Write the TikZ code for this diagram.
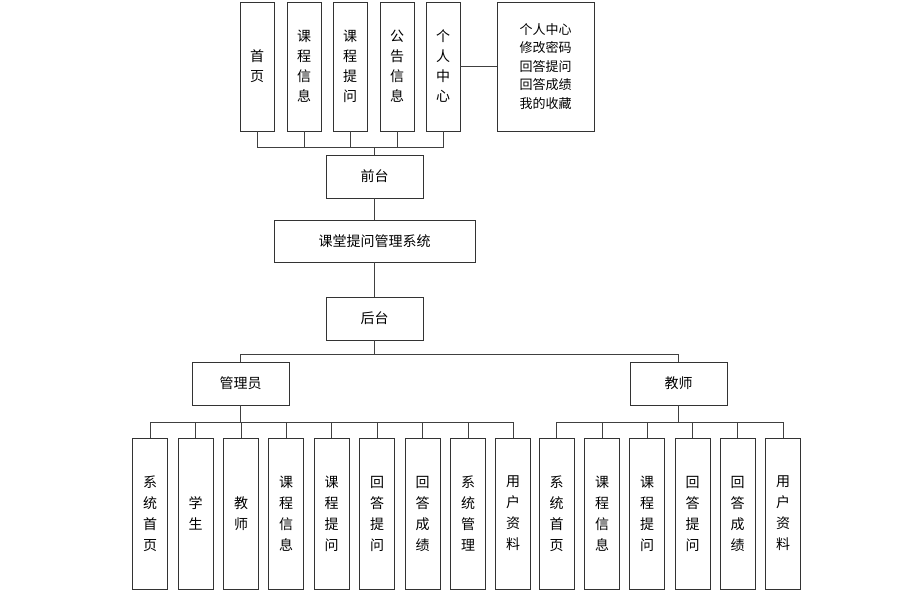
\documentclass[tikz,border=0pt]{standalone}
\usepackage{fontspec}
\setmainfont{Noto Sans CJK SC}
\begin{document}
\begin{tikzpicture}[x=1pt,y=-1pt,
  bx/.style={draw=black!80,line width=0.9pt,fill=white,inner sep=0pt,align=center,font=\fontsize{14}{20}\selectfont},
  ln/.style={draw=black!75,line width=0.9pt}]
\useasboundingbox (0,0) rectangle (901,597);
% top
\foreach \n/\x/\t in {t1/257/首\\页, t2/304/课\\程\\信\\息, t3/350/课\\程\\提\\问, t4/397/公\\告\\信\\息, t5/443/个\\人\\中\\心}{
  \node[bx,minimum width=34,minimum height=129] (\n) at (\x,66.5) {\t};
}
\node[bx,minimum width=97,minimum height=129,font=\fontsize{13}{18.5}\selectfont] (pc) at (545.5,66.5) {个人中心\\修改密码\\回答提问\\回答成绩\\我的收藏};
\draw[ln] (t5.east) -- (pc.west);
\node[bx,minimum width=97,minimum height=43] (qt) at (374.5,176.5) {前台};
\node[bx,minimum width=201,minimum height=42] (sys) at (374.5,241) {课堂提问管理系统};
\node[bx,minimum width=97,minimum height=43] (ht) at (374.5,318.5) {后台};
\node[bx,minimum width=97,minimum height=43] (adm) at (240.5,383.5) {管理员};
\node[bx,minimum width=97,minimum height=43] (tea) at (678.5,383.5) {教师};
\foreach \n in {t1,t2,t3,t4,t5}{\draw[ln] (\n.south) |- (374.5,147) -- (qt.north);}
\draw[ln] (qt) -- (sys); \draw[ln] (sys) -- (ht);
\draw[ln] (ht.south) -- (374.5,354) -| (adm.north);
\draw[ln] (374.5,354) -| (tea.north);
% admin children
\foreach \n/\x/\t in {a1/150/系\\统\\首\\页, a2/195.5/学\\生, a3/241/教\\师, a4/286/课\\程\\信\\息, a5/331.5/课\\程\\提\\问, a6/377/回\\答\\提\\问, a7/422.5/回\\答\\成\\绩, a8/468/系\\统\\管\\理, a9/513/用\\户\\资\\料}{
  \node[bx,minimum width=35,minimum height=151,font=\fontsize{14}{21}\selectfont] (\n) at (\x,513.5) {\t};
  \draw[ln] (adm.south) -- (240.5,422) -| (\n.north);
}
\foreach \n/\x/\t in {b1/556.5/系\\统\\首\\页, b2/602/课\\程\\信\\息, b3/647/课\\程\\提\\问, b4/692.5/回\\答\\提\\问, b5/737.5/回\\答\\成\\绩, b6/783/用\\户\\资\\料}{
  \node[bx,minimum width=35,minimum height=151,font=\fontsize{14}{21}\selectfont] (\n) at (\x,513.5) {\t};
  \draw[ln] (tea.south) -- (678.5,422) -| (\n.north);
}
\end{tikzpicture}
\end{document}
